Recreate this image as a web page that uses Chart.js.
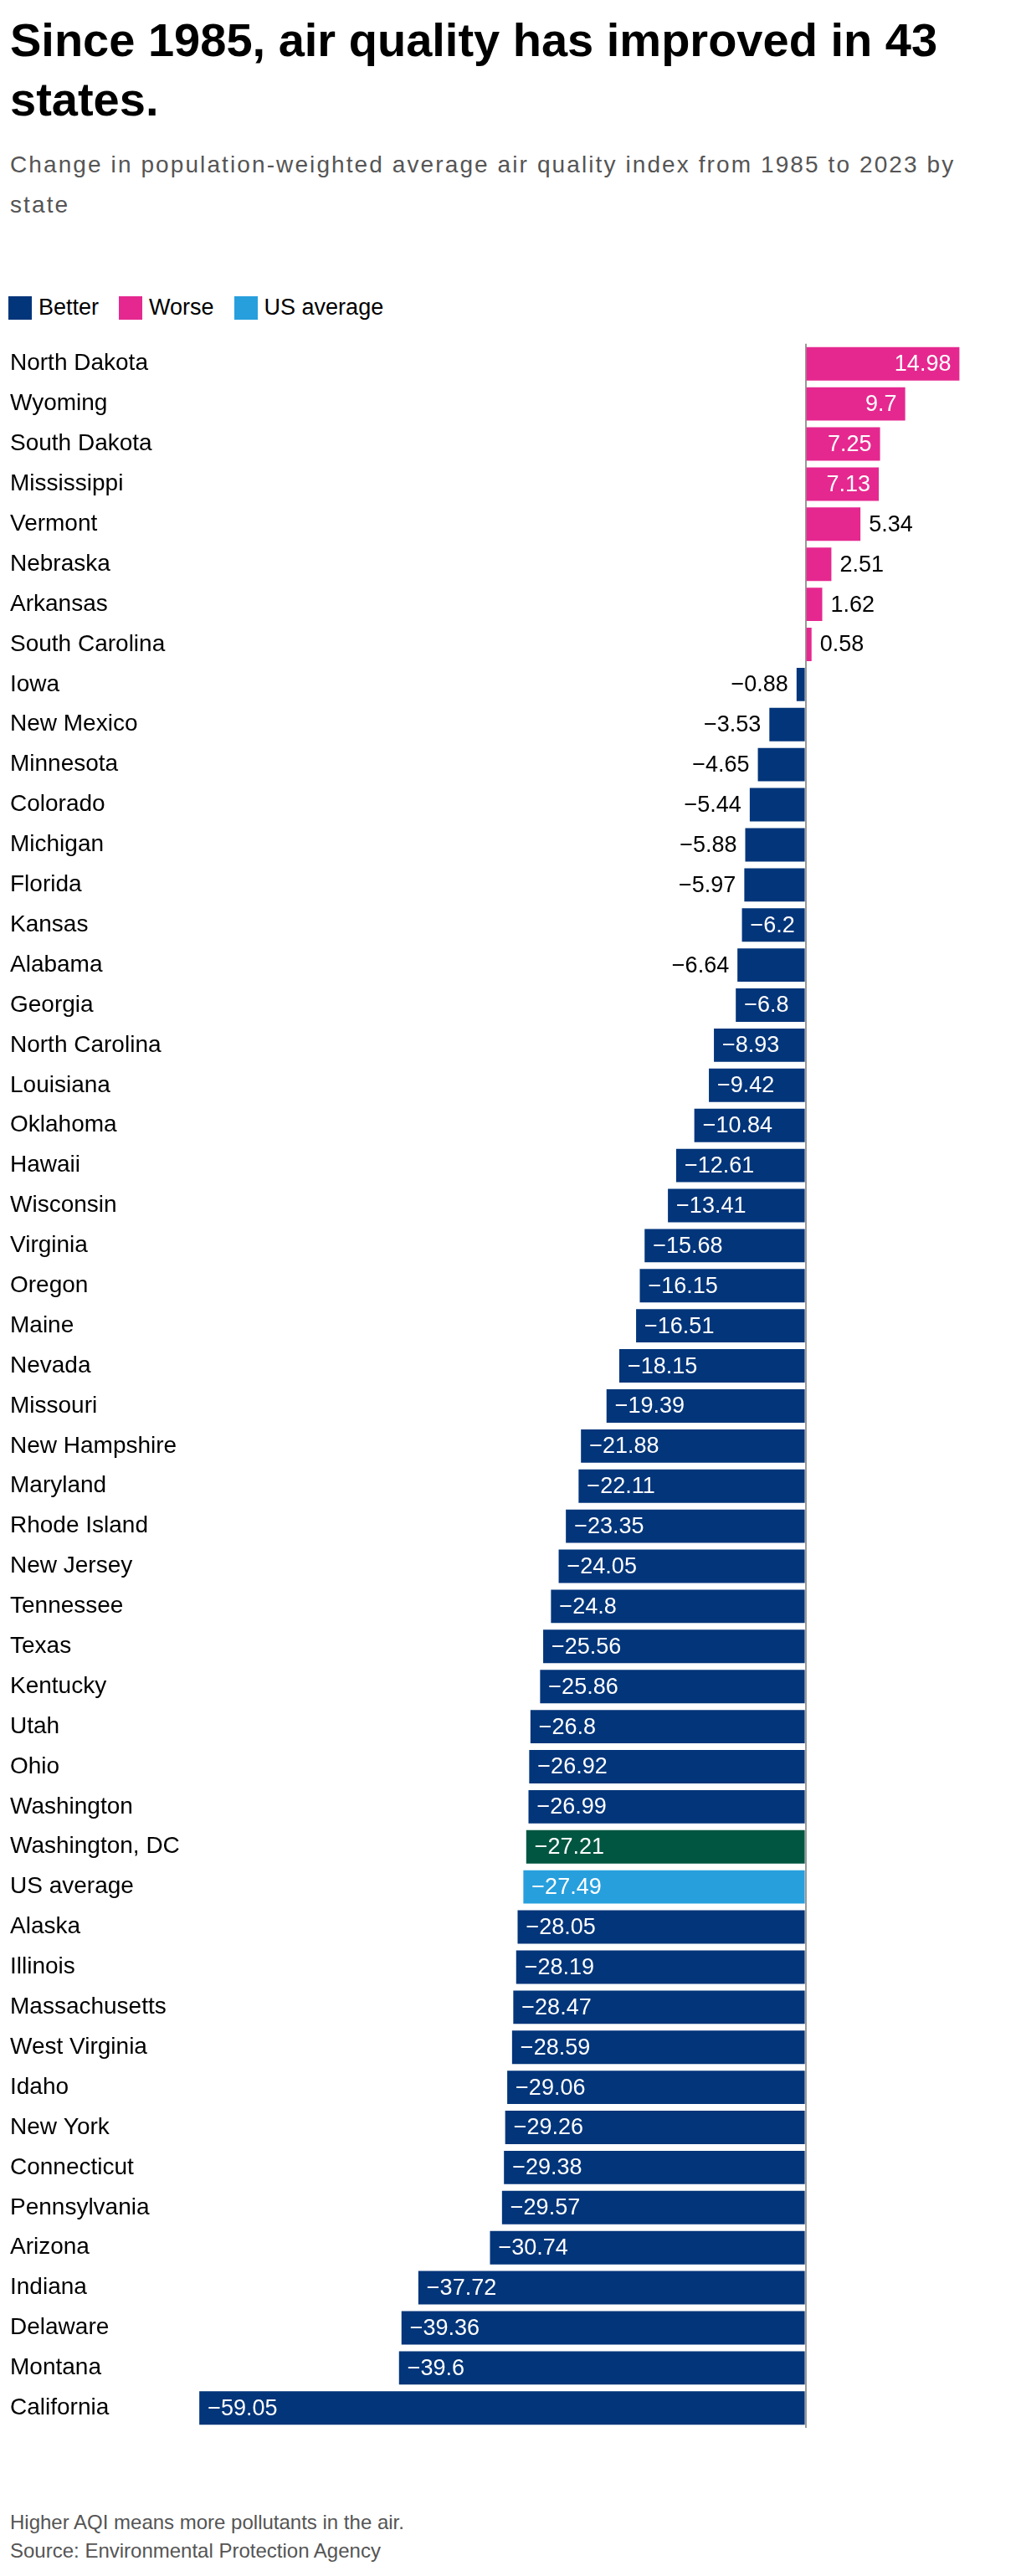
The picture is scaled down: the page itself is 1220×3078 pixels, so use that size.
<!DOCTYPE html>
<html>
<head>
<meta charset="utf-8">
<title>Air quality change by state</title>
<script src="https://cdn.jsdelivr.net/npm/chart.js@4.4.1/dist/chart.umd.min.js"></script>
<style>
    html, body { margin: 0; padding: 0; background: #fff; }
    body { width: 1220px; height: 3078px; position: relative; font-family: "Liberation Sans", Arial, sans-serif; color: #000; }
    .title { position: absolute; left: 12px; top: 12px; width: 1180px; font-size: 56px; line-height: 71px; font-weight: bold; margin: 0; }
    .subtitle { position: absolute; left: 12px; top: 173px; width: 1195px; font-size: 28px; line-height: 48px; color: #555; letter-spacing: 2.1px; margin: 0; }
    .legend { position: absolute; left: 10px; top: 353px; display: flex; font-size: 27px; line-height: 28px; }
    .legend span.item { display: flex; align-items: flex-start; margin-right: 24px; }
    .legend span.box { width: 28px; height: 28px; margin-top: 1px; margin-right: 8px; display: inline-block; }
    .chart-wrap { position: absolute; left: 0; top: 391px; width: 1220px; height: 2530px; }
    .footer { position: absolute; left: 12px; top: 2997px; font-size: 24px; line-height: 34px; color: #555; }
</style>
</head>
<body>
    <h1 class="title">Since 1985, air quality has improved in 43<br>states.</h1>
    <p class="subtitle">Change in population-weighted average air quality index from 1985 to 2023 by state</p>
    <div class="legend">
        <span class="item"><span class="box" style="background:#03357a"></span>Better</span>
        <span class="item"><span class="box" style="background:#e5288f"></span>Worse</span>
        <span class="item"><span class="box" style="background:#279fdd"></span>US average</span>
    </div>
    <div class="chart-wrap"><canvas id="aqiChart"></canvas></div>
    <div class="footer">Higher AQI means more pollutants in the air.<br>Source: Environmental Protection Agency</div>

<script>
// Data
const states = [
    'North Dakota', 'Wyoming', 'South Dakota', 'Mississippi', 'Vermont', 'Nebraska',
    'Arkansas', 'South Carolina', 'Iowa', 'New Mexico', 'Minnesota', 'Colorado',
    'Michigan', 'Florida', 'Kansas', 'Alabama', 'Georgia', 'North Carolina',
    'Louisiana', 'Oklahoma', 'Hawaii', 'Wisconsin', 'Virginia', 'Oregon', 'Maine',
    'Nevada', 'Missouri', 'New Hampshire', 'Maryland', 'Rhode Island', 'New Jersey',
    'Tennessee', 'Texas', 'Kentucky', 'Utah', 'Ohio', 'Washington', 'Washington, DC',
    'US average', 'Alaska', 'Illinois', 'Massachusetts', 'West Virginia', 'Idaho',
    'New York', 'Connecticut', 'Pennsylvania', 'Arizona', 'Indiana', 'Delaware',
    'Montana', 'California'
];

const aqiChange = [
    14.98, 9.7, 7.25, 7.13, 5.34, 2.51,
    1.62, 0.58, -0.88, -3.53, -4.65, -5.44,
    -5.88, -5.97, -6.2, -6.64, -6.8, -8.93,
    -9.42, -10.84, -12.61, -13.41, -15.68, -16.15, -16.51,
    -18.15, -19.39, -21.88, -22.11, -23.35, -24.05,
    -24.8, -25.56, -25.86, -26.8, -26.92, -26.99, -27.21,
    -27.49, -28.05, -28.19, -28.47, -28.59, -29.06,
    -29.26, -29.38, -29.57, -30.74, -37.72, -39.36,
    -39.6, -59.05
];

const xTicks = [-60, 20]; // axis range (no visible tick labels)

const COLORS = {
    better: '#03357a',
    worse: '#e5288f',
    average: '#279fdd',
    dc: '#005641'
};

function barColor(name, v) {
    if (name === 'US average') return COLORS.average;
    if (name === 'Washington, DC') return COLORS.dc;
    return v >= 0 ? COLORS.worse : COLORS.better;
}

function formatValue(v) {
    return v < 0 ? '\u2212' + Math.abs(v) : String(v);
}

// Value labels: inside the bar end when they fit, else just outside
const valueLabels = {
    id: 'valueLabels',
    afterDatasetsDraw(chart) {
        const ctx = chart.ctx;
        const meta = chart.getDatasetMeta(0);
        const pad = 10;
        ctx.save();
        ctx.font = '27px "Liberation Sans", Arial, sans-serif';
        ctx.textBaseline = 'middle';
        meta.data.forEach((bar, i) => {
            const v = aqiChange[i];
            const text = formatValue(v);
            const w = Math.abs(bar.x - bar.base);
            const tw = ctx.measureText(text).width;
            const inside = tw + pad * 2 <= w;
            if (v >= 0) {
                ctx.textAlign = inside ? 'right' : 'left';
                ctx.fillStyle = inside ? '#fff' : '#000';
                ctx.fillText(text, inside ? bar.x - pad : bar.x + pad, bar.y + 1);
            } else {
                ctx.textAlign = inside ? 'left' : 'right';
                ctx.fillStyle = inside ? '#fff' : '#000';
                ctx.fillText(text, inside ? bar.x + pad : bar.x - pad, bar.y + 1);
            }
        });
        ctx.restore();
    }
};

const ctx = document.getElementById('aqiChart').getContext('2d');
new Chart(ctx, {
    type: 'bar',
    data: {
        labels: states,
        datasets: [{
            data: aqiChange,
            backgroundColor: states.map((s, i) => barColor(s, aqiChange[i])),
            borderWidth: 0,
            categoryPercentage: 1,
            barPercentage: 40 / 48
        }]
    },
    options: {
        indexAxis: 'y',
        responsive: true,
        maintainAspectRatio: false,
        animation: false,
        layout: { padding: { left: 12, right: 12, top: 0, bottom: 0 } },
        plugins: {
            legend: { display: false },
            tooltip: { enabled: false }
        },
        scales: {
            x: {
                min: xTicks[0],
                max: xTicks[1],
                ticks: { display: false, stepSize: 10 },
                border: { display: false },
                grid: {
                    drawTicks: false,
                    lineWidth: 2,
                    color: c => c.tick && c.tick.value === 0 ? '#999' : 'transparent'
                }
            },
            y: {
                afterFit(scale) { scale.width = 214.5; },
                grid: { display: false },
                border: { display: false },
                ticks: {
                    autoSkip: false,
                    crossAlign: 'far',
                    color: '#000',
                    font: { family: '"Liberation Sans", Arial, sans-serif', size: 28 }
                }
            }
        }
    },
    plugins: [valueLabels]
});
</script>
</body>
</html>
